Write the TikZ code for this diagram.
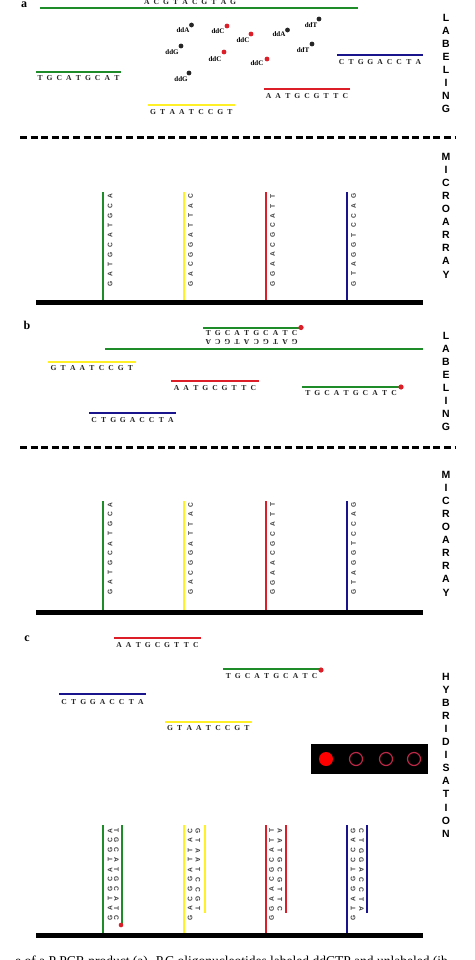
\documentclass[tikz,border=0pt]{standalone}
\usepackage{fontspec}
\setmainfont{Liberation Serif}
\setsansfont{Liberation Sans}
\makeatletter
\newcommand\dnaseq[2][9.6pt]{\@tfor\dnaletter:=#2\do{\makebox[#1]{\dnaletter}}}
\makeatother
\definecolor{dnagreen}{RGB}{30,140,40}
\definecolor{dnayellow}{RGB}{255,240,40}
\definecolor{dnared}{RGB}{220,30,40}
\definecolor{dnablue}{RGB}{25,20,140}
\definecolor{ringred}{RGB}{190,40,70}
\begin{document}
\begin{tikzpicture}[x=1pt,y=-1pt,
  seqtext/.style={font=\fontsize{7.6}{8}\selectfont\bfseries, inner sep=0pt, text=black!85},
  probetext/.style={font=\sffamily\bfseries\fontsize{6.6}{7}\selectfont, inner sep=0pt, text=black!75},
  ddtext/.style={font=\fontsize{7}{8}\selectfont\bfseries, inner sep=0pt},
  strand/.style={line width=2pt},
  probeline/.style={line width=1.6pt},
  baseline/.style={line width=5pt},
  sepline/.style={line width=3pt, dash pattern=on 7pt off 3.6pt},
  sidelabel/.style={font=\sffamily\bfseries\fontsize{10.5}{13.1}\selectfont, align=center, inner sep=0pt},
  panel/.style={font=\bfseries\fontsize{12}{14}\selectfont, inner sep=0pt}]
\useasboundingbox (0,0) rectangle (474,960);
\fill[white] (0,0) rectangle (474,960);

% ---------------- panel a : labeling
\node[panel] (pa) at (24,5) {a};
\draw[strand,dnagreen] (40,8) -- (358,8);
\node[seqtext] (sa0) at (190,2.5) {\dnaseq{ACGTACGTAG}};
\draw[strand,dnagreen] (36,72) -- (121,72);
\node[seqtext] (sa1) at (78.5,78.5) {\dnaseq{TGCATGCAT}};
\draw[strand,dnablue] (337,55) -- (423,55);
\node[seqtext] (sa2) at (380,62) {\dnaseq{CTGGACCTA}};
\draw[strand,dnared] (264,89) -- (350,89);
\node[seqtext] (sa3) at (307,96) {\dnaseq{AATGCGTTC}};
\draw[strand,dnayellow] (148,105) -- (235,105);
\node[seqtext] (sa4) at (191.5,112) {\dnaseq{GTAATCCGT}};

\node[ddtext] (d1) at (183,30) {ddA}; \fill[black!85] (191.5,25) circle (2.4);
\node[ddtext] (d2) at (218,31) {ddC}; \fill[dnared] (227,26) circle (2.4);
\node[ddtext] (d3) at (243,40) {ddC}; \fill[dnared] (251,34) circle (2.4);
\node[ddtext] (d4) at (279,34) {ddA}; \fill[black!85] (287.5,30) circle (2.4);
\node[ddtext] (d5) at (311,25) {ddT}; \fill[black!85] (319,19) circle (2.4);
\node[ddtext] (d6) at (172,52) {ddG}; \fill[black!85] (181,46) circle (2.4);
\node[ddtext] (d7) at (215,59) {ddC}; \fill[dnared] (224,52) circle (2.4);
\node[ddtext] (d8) at (303,50) {ddT}; \fill[black!85] (312,44) circle (2.4);
\node[ddtext] (d9) at (257,63) {ddC}; \fill[dnared] (267,59) circle (2.4);
\node[ddtext] (d10) at (181,79) {ddG}; \fill[black!85] (189,73) circle (2.4);

\node[sidelabel] (lab1) at (446,63.5) {L\\A\\B\\E\\L\\I\\N\\G};
\draw[sepline] (20,138) -- (455,138);

% ---------------- panel a : microarray
\node[sidelabel] (mic1) at (446,215.5) {M\\I\\C\\R\\O\\A\\R\\R\\A\\Y};
\draw[probeline,dnagreen] (103,192) -- (103,302);
\draw[probeline,dnayellow] (184,192) -- (184,302);
\draw[probeline,dnared] (266,192) -- (266,302);
\draw[probeline,dnablue] (347,192) -- (347,302);
\node[probetext,rotate=90] (pa1) at (110,240) {\dnaseq[9.7pt]{GATGCATGCA}};
\node[probetext,rotate=90] (pa2) at (190.5,240) {\dnaseq[9.7pt]{GACGGATTAC}};
\node[probetext,rotate=90] (pa3) at (272.5,240) {\dnaseq[9.7pt]{GGAACGCATT}};
\node[probetext,rotate=90] (pa4) at (353.5,240) {\dnaseq[9.7pt]{GTAGGTCCAG}};
\draw[baseline] (36,302) -- (423,302);

% ---------------- panel b : labeling
\node[panel] (pb) at (27,325) {b};
\draw[strand,dnagreen] (203,327.5) -- (300,327.5);
\fill[dnared] (301,327.5) circle (2.6);
\node[seqtext] (sb0) at (251.5,333) {\dnaseq{TGCATGCATC}};
\node[seqtext,rotate=180] (sb0r) at (251.5,341.5) {\dnaseq{GATGCATGCA}};
\draw[strand,dnagreen] (105,348.5) -- (423,348.5);
\draw[strand,dnayellow] (48,362) -- (136,362);
\node[seqtext] (sb1) at (92,368.5) {\dnaseq{GTAATCCGT}};
\draw[strand,dnared] (171,381) -- (259,381);
\node[seqtext] (sb2) at (215,388) {\dnaseq{AATGCGTTC}};
\draw[strand,dnagreen] (302,387) -- (400,387);
\fill[dnared] (401,387) circle (2.6);
\node[seqtext] (sb3) at (351,393.5) {\dnaseq{TGCATGCATC}};
\draw[strand,dnablue] (89,413) -- (176,413);
\node[seqtext] (sb4) at (132.5,420) {\dnaseq{CTGGACCTA}};
\node[sidelabel] (lab2) at (446,381.5) {L\\A\\B\\E\\L\\I\\N\\G};
\draw[sepline] (20,447) -- (455,447);

% ---------------- panel b : microarray
\node[sidelabel] (mic2) at (446,533.5) {M\\I\\C\\R\\O\\A\\R\\R\\A\\Y};
\draw[probeline,dnagreen] (103,501) -- (103,612);
\draw[probeline,dnayellow] (184,501) -- (184,612);
\draw[probeline,dnared] (266,501) -- (266,612);
\draw[probeline,dnablue] (347,501) -- (347,612);
\node[probetext,rotate=90] (pb1) at (110,548.5) {\dnaseq[9.7pt]{GATGCATGCA}};
\node[probetext,rotate=90] (pb2) at (190.5,548.5) {\dnaseq[9.7pt]{GACGGATTAC}};
\node[probetext,rotate=90] (pb3) at (272.5,548.5) {\dnaseq[9.7pt]{GGAACGCATT}};
\node[probetext,rotate=90] (pb4) at (353.5,548.5) {\dnaseq[9.7pt]{GTAGGTCCAG}};
\draw[baseline] (36,612) -- (423,612);

% ---------------- panel c : hybridisation
\node[panel] (pc) at (27,639) {c};
\draw[strand,dnared] (114,638) -- (201,638);
\node[seqtext] (sc1) at (157.5,645) {\dnaseq{AATGCGTTC}};
\draw[strand,dnagreen] (223,669) -- (320,669);
\fill[dnared] (321,670) circle (2.6);
\node[seqtext] (sc2) at (271.5,676) {\dnaseq{TGCATGCATC}};
\draw[strand,dnablue] (59,694) -- (146,694);
\node[seqtext] (sc3) at (102.5,702) {\dnaseq{CTGGACCTA}};
\draw[strand,dnayellow] (165,722) -- (252,722);
\node[seqtext] (sc4) at (208.5,728.5) {\dnaseq{GTAATCCGT}};

\node[fill=black, minimum width=117pt, minimum height=30pt, inner sep=0pt] (chip) at (369.5,759) {};
\fill[red] (326,759) circle (7);
\draw[ringred,line width=1.2pt] (356,759) circle (6.5);
\draw[ringred,line width=1.2pt] (386,759) circle (6.5);
\draw[ringred,line width=1.2pt] (414,759) circle (6.5);

\node[sidelabel] (hyb) at (446,755) {H\\Y\\B\\R\\I\\D\\I\\S\\A\\T\\I\\O\\N};

\draw[probeline,dnagreen] (103,825) -- (103,935);
\draw[probeline,dnayellow] (184,825) -- (184,935);
\draw[probeline,dnared] (266,825) -- (266,935);
\draw[probeline,dnablue] (347,825) -- (347,935);
\node[probetext,rotate=90] (pc1) at (110,874.5) {\dnaseq[9.7pt]{GATGCATGCA}};
\node[probetext,rotate=90] (pc2) at (190,874.5) {\dnaseq[9.7pt]{GACGGATTAC}};
\node[probetext,rotate=90] (pc3) at (271.5,874.5) {\dnaseq[9.7pt]{GGAACGCATT}};
\node[probetext,rotate=90] (pc4) at (353,874.5) {\dnaseq[9.7pt]{GTAGGTCCAG}};
\node[probetext,rotate=-90] (tc1) at (116.5,874.5) {\dnaseq[9.7pt]{TGCATGCATC}};
\node[probetext,rotate=-90] (tc2) at (198,870) {\dnaseq[9.7pt]{GTAATCCGT}};
\node[probetext,rotate=-90] (tc3) at (280,870) {\dnaseq[9.7pt]{AATGCGTTC}};
\node[probetext,rotate=-90] (tc4) at (361.5,870) {\dnaseq[9.7pt]{CTGGACCTA}};
\draw[probeline,dnagreen] (122,825) -- (122,924);
\fill[dnared] (121,925) circle (2.3);
\draw[probeline,dnayellow] (205,825) -- (205,913);
\draw[probeline,dnared] (286,825) -- (286,913);
\draw[probeline,dnablue] (367,825) -- (367,913);
\draw[baseline] (36,935) -- (423,935);

\node[anchor=base west, inner sep=0pt, font=\fontsize{13.5}{15}\selectfont] (cap) at (15,965)
  {e of a P PCR product (a). P.C oligonucleotides labeled ddCTP and unlabeled (ib};
\end{tikzpicture}
\end{document}
